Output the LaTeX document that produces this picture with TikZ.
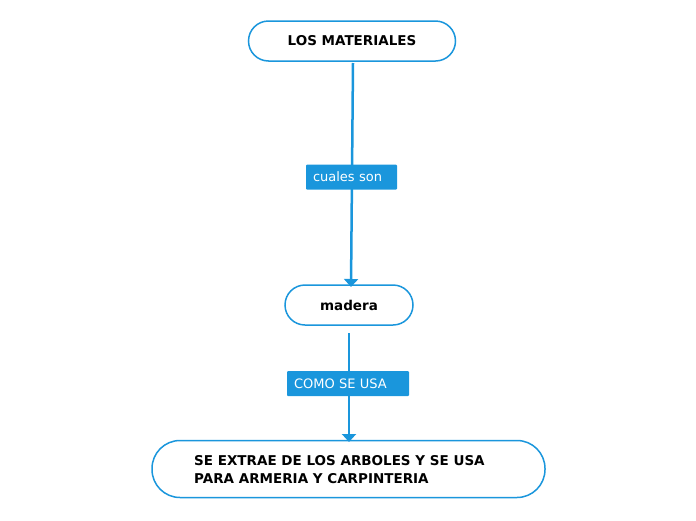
\documentclass[tikz,border=0pt]{standalone}
\usepackage{fontspec}
\setmainfont{DejaVu Sans}
\usetikzlibrary{arrows.meta}
\definecolor{mblue}{HTML}{1A96DC}
\begin{document}
\begin{tikzpicture}[x=1pt,y=-1pt,
  box/.style={draw=mblue,line width=1.5pt,rounded corners=20pt,fill=white,inner sep=0pt,font=\bfseries\fontsize{13.5}{17}\selectfont},
  lab/.style={fill=mblue,text=white,inner sep=0pt,font=\fontsize{13}{16}\selectfont,rounded corners=1pt},
  conn/.style={draw=mblue,line width=2.5pt,-{Triangle[length=8pt,width=14pt]}}]
\useasboundingbox (0,0) rectangle (696,520);
\node[box,minimum width=207pt,minimum height=40pt] (a) at (352,41) {LOS MATERIALES};
\node[box,minimum width=128pt,minimum height=40pt] (b) at (349,305) {madera};
\node[box,minimum width=393pt,minimum height=57pt,rounded corners=28pt] (c) at (348.5,469) {};
\node[font=\bfseries\fontsize{13.5}{18}\selectfont,align=left,anchor=west,inner sep=0pt] (ct) at (194,470) {SE EXTRAE DE LOS ARBOLES Y SE USA\\PARA ARMERIA Y CARPINTERIA};
\coordinate (a1) at (353,63);
\coordinate (b0) at (351,287);
\coordinate (b1) at (349,333);
\coordinate (c0) at (349,442);
\draw[conn] (a1) -- (b0);
\draw[conn] (b1) -- (c0);
\node[lab,minimum width=91pt,minimum height=25pt,text width=77pt,align=left] (l1) at (351.5,177) {cuales son};
\node[lab,minimum width=122pt,minimum height=25pt,text width=108pt,align=left] (l2) at (348,383.5) {COMO SE USA};
\end{tikzpicture}
\end{document}
